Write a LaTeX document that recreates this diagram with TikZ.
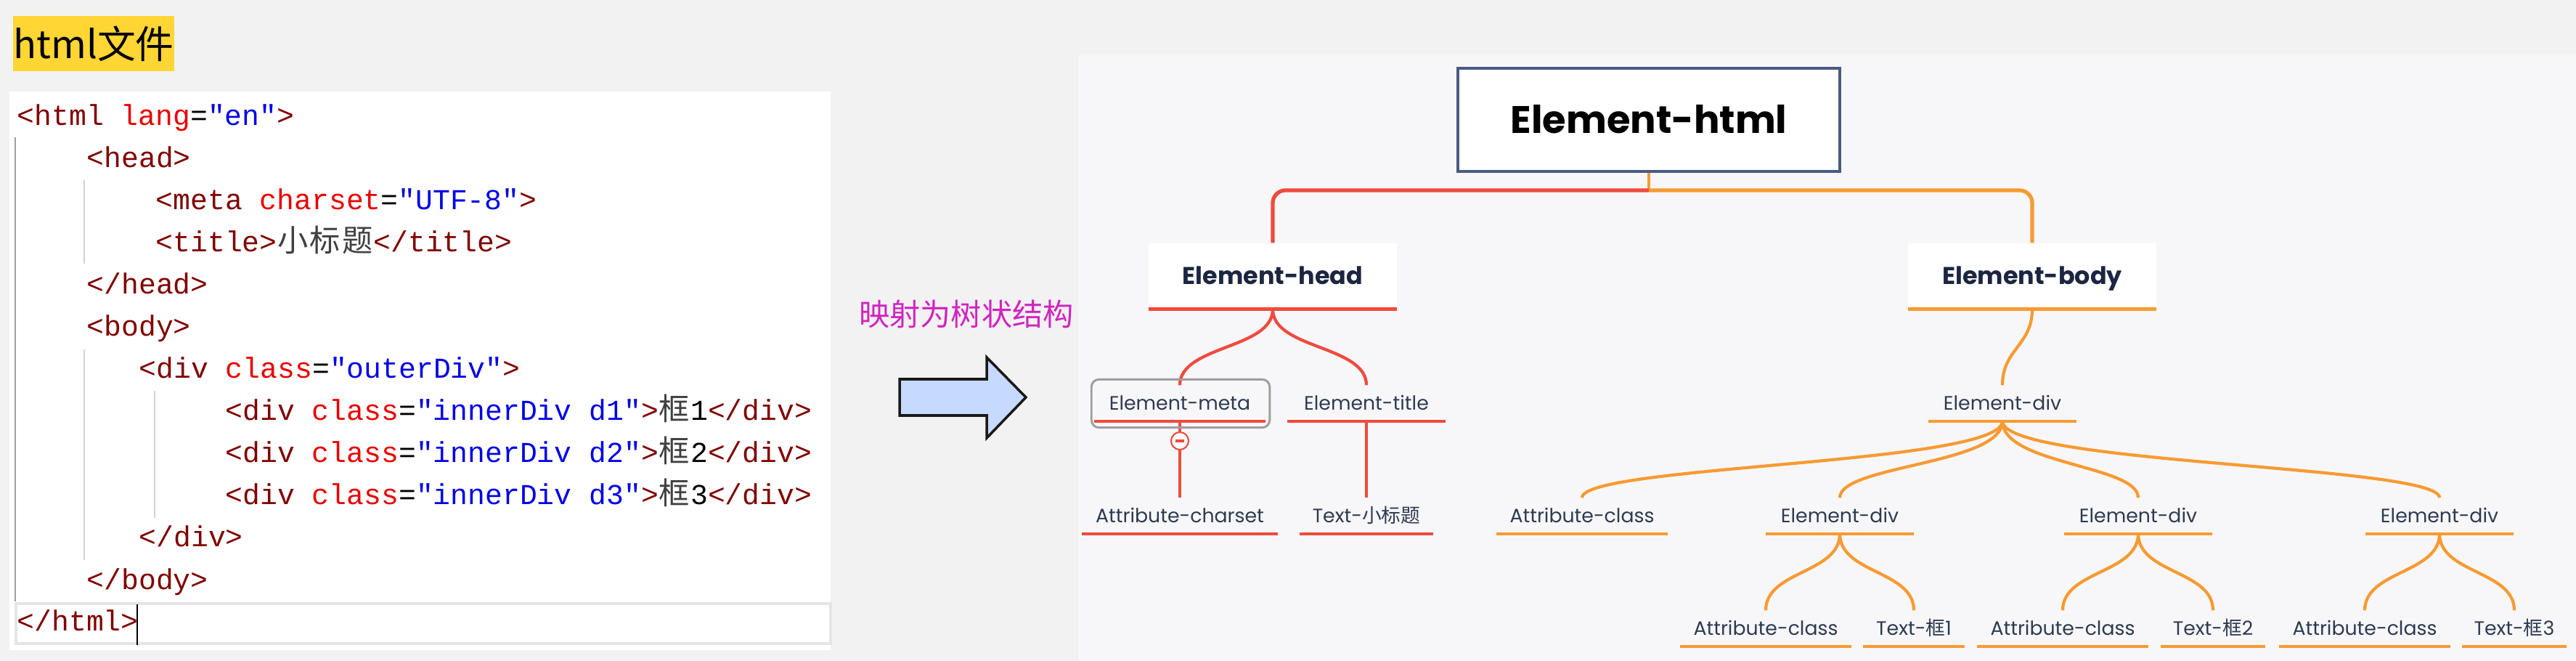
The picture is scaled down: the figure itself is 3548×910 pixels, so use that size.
\documentclass[tikz,border=0pt]{standalone}
\usepackage{fontspec}
\usetikzlibrary{calc}
\newfontfamily\cjk{Noto Sans CJK SC}
\newfontfamily\codefont{Liberation Mono}
\newfontfamily\treefont{Poppins}

\definecolor{bgleft}{HTML}{F2F2F2}
\definecolor{bgright}{HTML}{F7F7F9}
\definecolor{tagc}{HTML}{800000}
\definecolor{attc}{HTML}{E80000}
\definecolor{valc}{HTML}{0000E6}
\definecolor{hl}{HTML}{FFD633}
\definecolor{pinkc}{HTML}{D024C0}
\definecolor{arrowc}{HTML}{C6D9FF}
\definecolor{redl}{HTML}{F04A3E}
\definecolor{orgl}{HTML}{F89A32}
\definecolor{navy}{HTML}{1C2541}
\definecolor{labc}{HTML}{2E3A50}
\definecolor{rootb}{HTML}{4A5A82}

\newcommand{\tg}[1]{\textcolor{tagc}{#1}}
\newcommand{\at}[1]{\textcolor{attc}{#1}}
\newcommand{\vl}[1]{\textcolor{valc}{#1}}
\newcommand{\zc}[1]{\makebox[12.6pt]{\cjk\fontsize{12}{12}\selectfont\color{black!75}#1}}
\newcommand{\zh}[1]{{\cjk #1}}

\tikzset{
  codeline/.style={anchor=base west,inner sep=0pt,font=\codefont\fontsize{11.3}{13}\selectfont},
  guide/.style={draw=black!18,line width=0.6pt},
  lab/.style={inner sep=0pt,text=labc,font=\treefont\fontsize{7.6}{9}\selectfont,
    minimum height=0.48cm,text height=5.3pt,text depth=0pt},
  hbox/.style={fill=white,inner sep=0pt,text=navy,minimum width=3.41cm,minimum height=0.9cm,
    font=\treefont\bfseries\fontsize{9.5}{11}\selectfont,text height=6.7pt,text depth=0pt},
  ul/.style={line width=1.2pt},
  curve/.style={line width=1.2pt},
}

\begin{document}
\begin{tikzpicture}[x=0.01cm,y=-0.01cm]
\useasboundingbox (0,0) rectangle (3548,910);
\fill[bgleft] (0,0) rectangle (3548,910);
\fill[bgright] (1485,76) rectangle (3548,910);

% html file
\node[fill=hl,inner sep=0pt,minimum width=2.12cm,minimum height=0.75cm,
  font=\cjk\fontsize{15}{15}\selectfont] (filelab) at (129,60) {html文件};
\fill[white] (13,126) rectangle (1144,895);
\draw[draw=black!38,line width=0.6pt] (21,189) -- (21,828);
\draw[guide] (116,248) -- (116,363);
\draw[guide] (116,481) -- (116,771);
\draw[guide] (213,538) -- (213,713);
\draw[draw=black!10,line width=0.9pt] (22,831) rectangle (1144,886);

\node[codeline] (l1) at (23,173) {\tg{<html} \at{lang}=\vl{"en"}\tg{>}};
\node[codeline] (l2) at (119,231) {\tg{<head>}};
\node[codeline] (l3) at (214,289) {\tg{<meta} \at{charset}=\vl{"UTF-8"}\tg{>}};
\node[codeline] (l4) at (214,347) {\tg{<title>}\zc{小}\zc{标}\zc{题}\tg{</title>}};
\node[codeline] (l5) at (119,405) {\tg{</head>}};
\node[codeline] (l6) at (119,463) {\tg{<body>}};
\node[codeline] (l7) at (191,521) {\tg{<div} \at{class}=\vl{"outerDiv"}\tg{>}};
\node[codeline] (l8) at (310,579) {\tg{<div} \at{class}=\vl{"innerDiv d1"}\tg{>}\zc{框}1\tg{</div>}};
\node[codeline] (l9) at (310,637) {\tg{<div} \at{class}=\vl{"innerDiv d2"}\tg{>}\zc{框}2\tg{</div>}};
\node[codeline] (l10) at (310,695) {\tg{<div} \at{class}=\vl{"innerDiv d3"}\tg{>}\zc{框}3\tg{</div>}};
\node[codeline] (l11) at (191,753) {\tg{</div>}};
\node[codeline] (l12) at (119,811) {\tg{</body>}};
\node[codeline] (l13) at (23,869) {\tg{</html>}};
\draw[line width=0.7pt] (189,832) -- (189,888);

% mapping arrow
\node[font=\cjk\fontsize{12}{12}\selectfont,text=pinkc] (maplab) at (1331,433) {映射为树状结构};
\draw[line width=1pt,draw=black!90,fill=arrowc] (1239,522) -- (1359,522) -- (1359,492)
  -- (1413,547) -- (1359,603) -- (1359,572) -- (1239,572) -- cycle;

% tree
\node[draw=rootb,line width=1.1pt,fill=white,minimum width=5.26cm,minimum height=1.42cm,
  font=\treefont\bfseries\fontsize{15}{17}\selectfont,text height=10.5pt,text depth=0pt] (html) at (2271,165) {Element-html};
\node[hbox] (head) at (1753,380) {Element-head};
\node[hbox] (body) at (2799,380) {Element-body};

\node[lab,minimum width=2.34cm] (meta) at (1625,555) {Element-meta};
\node[lab,minimum width=2.17cm] (title) at (1882,555) {Element-title};
\node[lab,minimum width=2.02cm] (div) at (2758,555) {Element-div};

\node[lab,minimum width=2.69cm] (charset) at (1625,710) {Attribute-charset};
\node[lab,minimum width=1.82cm] (txt0) at (1882,710) {Text-\zh{小标题}};
\node[lab,minimum width=2.34cm] (attr0) at (2179,710) {Attribute-class};
\node[lab,minimum width=2.02cm] (div1) at (2534,710) {Element-div};
\node[lab,minimum width=2.02cm] (div2) at (2945,710) {Element-div};
\node[lab,minimum width=2.02cm] (div3) at (3360,710) {Element-div};

\node[lab,minimum width=2.34cm] (attr1) at (2432,865) {Attribute-class};
\node[lab,minimum width=1.39cm] (txt1) at (2636,865) {Text-\zh{框}1};
\node[lab,minimum width=2.34cm] (attr2) at (2841,865) {Attribute-class};
\node[lab,minimum width=1.43cm] (txt2) at (3048,865) {Text-\zh{框}2};
\node[lab,minimum width=2.34cm] (attr3) at (3257,865) {Attribute-class};
\node[lab,minimum width=1.43cm] (txt3) at (3463,865) {Text-\zh{框}3};

% trunk
\coordinate (jn) at ($(html.south)+(0,24)$);
\draw[orgl,line width=1pt] (html.south) -- (jn);
\draw[redl,line width=1.5pt,rounded corners=5pt] (jn) -| (head.north);
\draw[orgl,line width=1.5pt,rounded corners=5pt] (jn) -| (body.north);
\draw[redl,line width=1.3pt] (head.south west) -- (head.south east);
\draw[orgl,line width=1.3pt] (body.south west) -- (body.south east);

% head branch
\draw[redl,curve] (head.south) .. controls +(0,55) and +(0,-55) .. (meta.north);
\draw[redl,curve] (head.south) .. controls +(0,55) and +(0,-55) .. (title.north);
\draw[redl,line width=0.9pt] (meta.south) -- (charset.north);
\draw[redl,line width=0.9pt] (title.south) -- (txt0.north);
\foreach \n in {meta,title,charset,txt0}
  \draw[redl,ul] (\n.south west) -- (\n.south east);
\node[circle,draw=redl,fill=white,line width=0.6pt,minimum size=0.24cm,inner sep=0pt] (fold) at (1625,607) {};
\draw[redl,line width=1pt] ([xshift=-1.7pt]fold.center) -- ([xshift=1.7pt]fold.center);
\draw[draw=black!38,line width=0.85pt,rounded corners=3pt]
  ($(meta.south west)+(-4,9)$) rectangle ($(meta.north east)+(6,-8)$);

% body branch
\draw[orgl,curve] (body.south) .. controls +(0,50) and +(0,-50) .. (div.north);
\draw[orgl,curve] (div.south) .. controls +(0,60) and +(0,-45) .. (attr0.north);
\draw[orgl,curve] (div.south) .. controls +(0,60) and +(0,-45) .. (div1.north);
\draw[orgl,curve] (div.south) .. controls +(0,60) and +(0,-45) .. (div2.north);
\draw[orgl,curve] (div.south) .. controls +(0,60) and +(0,-45) .. (div3.north);
%
\draw[orgl,curve] (div1.south) .. controls +(0,55) and +(0,-55) .. (attr1.north);
\draw[orgl,curve] (div1.south) .. controls +(0,55) and +(0,-55) .. (txt1.north);
\draw[orgl,curve] (div2.south) .. controls +(0,55) and +(0,-55) .. (attr2.north);
\draw[orgl,curve] (div2.south) .. controls +(0,55) and +(0,-55) .. (txt2.north);
\draw[orgl,curve] (div3.south) .. controls +(0,55) and +(0,-55) .. (attr3.north);
\draw[orgl,curve] (div3.south) .. controls +(0,55) and +(0,-55) .. (txt3.north);
\foreach \n in {div,attr0,div1,div2,div3,attr1,txt1,attr2,txt2,attr3,txt3}
  \draw[orgl,ul] (\n.south west) -- (\n.south east);
\end{tikzpicture}
\end{document}
